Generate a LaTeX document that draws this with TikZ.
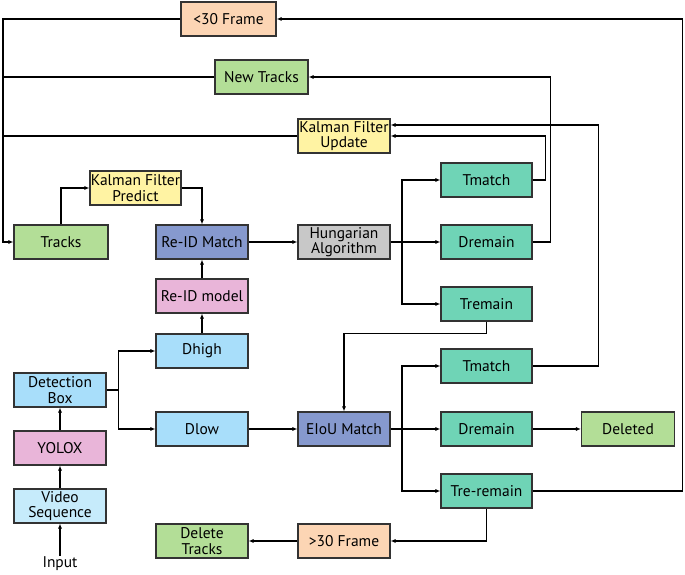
\documentclass[tikz,border=0pt]{standalone}
\usepackage{fontspec}
\setmainfont{PT Sans}
\usetikzlibrary{arrows.meta}
\definecolor{cpeach}{HTML}{FCD5B4}
\definecolor{cgreen}{HTML}{B3DE97}
\definecolor{cyellow}{HTML}{FFF3A3}
\definecolor{cpurple}{HTML}{8699CE}
\definecolor{cgray}{HTML}{C8C8C8}
\definecolor{cteal}{HTML}{6FD4B6}
\definecolor{cpink}{HTML}{E9B5D9}
\definecolor{cblue}{HTML}{A8DEFA}
\definecolor{clblue}{HTML}{C6EBFB}
\begin{document}
\begin{tikzpicture}[x=1pt,y=1pt,
  box/.style={draw=black!80,line width=1.1pt,minimum width=92pt,minimum height=34pt,inner sep=1pt,align=center,font=\fontsize{15.5}{15.5}\selectfont},
  arr/.style={line width=1.1pt,-{Latex[length=5pt,width=4pt]}},
  ln/.style={line width=1.1pt}]
\useasboundingbox (0,0) rectangle (685,575);
\node[box,fill=cpeach,minimum width=95pt] (f30a) at (228.5,556) {<30 Frame};
\node[box,fill=cgreen,minimum width=93pt] (newt) at (261.5,498) {New Tracks};
\node[box,fill=cyellow] (kfu) at (344,439) {Kalman Filter\\Update};
\node[box,fill=cyellow,minimum width=91pt] (kfp) at (135.5,387) {Kalman Filter\\Predict};
\node[box,fill=cgreen,minimum width=94pt] (tracks) at (61,333) {Tracks};
\node[box,fill=cpurple] (reidm) at (202,333) {Re-ID Match};
\node[box,fill=cgray] (hung) at (344,333) {Hungarian\\Algorithm};
\node[box,fill=cteal,minimum width=91pt] (tm1) at (486.5,395) {Tmatch};
\node[box,fill=cteal,minimum width=91pt] (dr1) at (486.5,333) {Dremain};
\node[box,fill=cteal,minimum width=91pt] (tr1) at (486.5,271) {Tremain};
\node[box,fill=cpink] (reidmod) at (202,279) {Re-ID model};
\node[box,fill=cblue] (dhigh) at (202,224) {Dhigh};
\node[box,fill=cblue] (detb) at (60,185) {Detection\\Box};
\node[box,fill=cpink] (yolox) at (60,127) {YOLOX};
\node[box,fill=clblue] (video) at (60,69) {Video\\Sequence};
\node[font=\fontsize{15.5}{15.5}\selectfont,inner sep=1pt] (input) at (60,11) {Input};
\node[box,fill=cblue] (dlow) at (202,146) {Dlow};
\node[box,fill=cpurple] (eiou) at (344,146) {EIoU Match};
\node[box,fill=cteal,minimum width=91pt] (tm2) at (486.5,209) {Tmatch};
\node[box,fill=cteal,minimum width=91pt] (dr2) at (486.5,146) {Dremain};
\node[box,fill=cgreen,minimum width=93pt] (del) at (628,146) {Deleted};
\node[box,fill=cteal,minimum width=91pt] (trr) at (486.5,84) {Tre-remain};
\node[box,fill=cpeach] (f30b) at (344,34) {>30 Frame};
\node[box,fill=cgreen] (delt) at (202,34) {Delete\\Tracks};
% left bus
\coordinate (lb) at (3,333);
\draw[arr] (f30a.west) -| (lb) -- (tracks.west);
\draw[ln] (newt.west) -- (newt.west -| lb);
\draw[ln] (kfu.west) -- (kfu.west -| lb);
% top chain
\draw[arr] (tracks.north) |- (kfp.west);
\draw[arr] (kfp.east) -| (reidm.north);
\draw[arr] (reidm) -- (hung);
\draw[arr] (hung.east) -- (dr1.west);
\coordinate (b1) at (402,333);
\draw[arr] (b1) |- (tm1.west);
\draw[arr] (b1) |- (tr1.west);
\draw[arr] (tm1.east) -- ++(12.5,0) |- (kfu.east);
\draw[arr] (dr1.east) -- ++(17.5,0) |- (newt.east);
\draw[arr] (tr1.south) -- ++(0,-12) -| (eiou.north);
% detection
\draw[arr] (dhigh) -- (reidmod);
\draw[arr] (reidmod) -- (reidm);
\draw[arr] (input) -- (video);
\draw[arr] (video) -- (yolox);
\draw[arr] (yolox) -- (detb);
\draw[ln] (detb.east) -- ++(12,0) coordinate (b0);
\draw[arr] (b0) |- (dhigh.west);
\draw[arr] (b0) |- (dlow.west);
% bottom chain
\draw[arr] (dlow) -- (eiou);
\draw[arr] (eiou) -- (dr2);
\coordinate (b2) at (402,146);
\draw[arr] (b2) |- (tm2.west);
\draw[arr] (b2) |- (trr.west);
\draw[arr] (tm2.east) -- ++(65.5,0) |- ([yshift=11pt]kfu.east);
\draw[arr] (dr2) -- (del);
\draw[arr] (trr.east) -- ++(150,0) |- (f30a.east);
\draw[arr] (trr.south) |- (f30b.east);
\draw[arr] (f30b) -- (delt);
\end{tikzpicture}
\end{document}
